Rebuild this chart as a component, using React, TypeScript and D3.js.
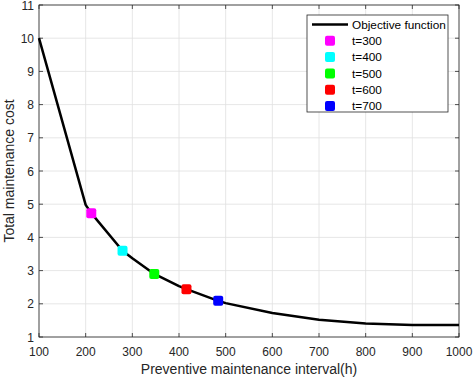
import React from "react";
import * as d3 from "d3";

const curveX = [100, 200, 212, 279, 300, 347, 400, 416, 484, 500, 600, 700, 800, 900, 1000];
const curveY = [10, 4.98, 4.73, 3.6, 3.37, 2.9, 2.53, 2.44, 2.09, 2.02, 1.72, 1.52, 1.41, 1.36, 1.36];
const markerLabels = ["t=300", "t=400", "t=500", "t=600", "t=700"];
const markerX = [212, 279, 347, 416, 484];
const markerY = [4.73, 3.6, 2.9, 2.44, 2.09];
const markerColors = ["#ff00ff", "#00ffff", "#00ff00", "#ff0000", "#0000ff"];
const xTicks = [100, 200, 300, 400, 500, 600, 700, 800, 900, 1000];
const yTicks = [1, 2, 3, 4, 5, 6, 7, 8, 9, 10, 11];

const W = 474, H = 379;
const L = 39, R = 459, T = 5, B = 337;
const FONT = "'Liberation Sans', Arial, Helvetica, sans-serif";
const AX = "#262626";

export default function App() {
  const x = d3.scaleLinear().domain([100, 1000]).range([L, R]);
  const y = d3.scaleLinear().domain([1, 11]).range([B, T]);
  const line = d3.line<number>().x((_, i) => x(curveX[i])).y((_, i) => y(curveY[i]));
  const path = line(curveX) || "";
  const tk = 4;
  const legX = 307, legY = 15, legW = 141, legH = 97;
  const rowH = 16.3;
  return (
    <svg width={W} height={H} style={{ position: "absolute", left: 0, top: 0, background: "#fff" }} fontFamily={FONT}>
      <rect x={0} y={0} width={W} height={H} fill="#fff" />
      {/* grid */}
      {xTicks.map((t) => (
        <line key={"gx" + t} x1={x(t)} x2={x(t)} y1={T} y2={B} stroke="#dfdfdf" strokeWidth={0.8} />
      ))}
      {yTicks.map((t) => (
        <line key={"gy" + t} x1={L} x2={R} y1={y(t)} y2={y(t)} stroke="#dfdfdf" strokeWidth={0.8} />
      ))}
      {/* axes box */}
      <rect x={L} y={T} width={R - L} height={B - T} fill="none" stroke={AX} strokeWidth={0.8} />
      {xTicks.map((t) => (
        <g key={"tx" + t}>
          <line x1={x(t)} x2={x(t)} y1={B} y2={B - tk} stroke={AX} strokeWidth={0.8} />
          <line x1={x(t)} x2={x(t)} y1={T} y2={T + tk} stroke={AX} strokeWidth={0.8} />
          <text x={x(t)} y={B + 19} fontSize={12} fill={AX} textAnchor="middle">{t}</text>
        </g>
      ))}
      {yTicks.map((t) => (
        <g key={"ty" + t}>
          <line x1={L} x2={L + tk} y1={y(t)} y2={y(t)} stroke={AX} strokeWidth={0.8} />
          <line x1={R} x2={R - tk} y1={y(t)} y2={y(t)} stroke={AX} strokeWidth={0.8} />
          <text x={L - 5} y={y(t) + 4.6} fontSize={12} fill={AX} textAnchor="end">{t}</text>
        </g>
      ))}
      {/* curve */}
      <path d={path} fill="none" stroke="#000" strokeWidth={2.5} strokeLinejoin="round" />
      {markerX.map((mx, i) => (
        <rect key={"m" + i} x={x(mx) - 5} y={y(markerY[i]) - 5} width={10} height={10} rx={2} fill={markerColors[i]} />
      ))}
      {/* labels */}
      <text x={(L + R) / 2} y={374} fontSize={14} fill={AX} textAnchor="middle">Preventive maintenance interval(h)</text>
      <text transform={`translate(13.5,${(T + B) / 2}) rotate(-90)`} fontSize={14} fill={AX} textAnchor="middle">Total maintenance cost</text>
      {/* legend */}
      <rect x={legX} y={legY} width={legW} height={legH} fill="#fff" stroke={AX} strokeWidth={0.8} />
      <line x1={312} x2={348} y1={legY + 9.5} y2={legY + 9.5} stroke="#000" strokeWidth={2.5} />
      <text x={352} y={legY + 13.8} fontSize={11.8} fill="#000">Objective function</text>
      {markerLabels.map((lab, i) => (
        <g key={"l" + i}>
          <rect x={325} y={legY + 9.5 + rowH * (i + 1) - 5} width={10} height={10} rx={2} fill={markerColors[i]} />
          <text x={352} y={legY + 13.8 + rowH * (i + 1)} fontSize={11.8} fill="#000">{lab}</text>
        </g>
      ))}
    </svg>
  );
}
